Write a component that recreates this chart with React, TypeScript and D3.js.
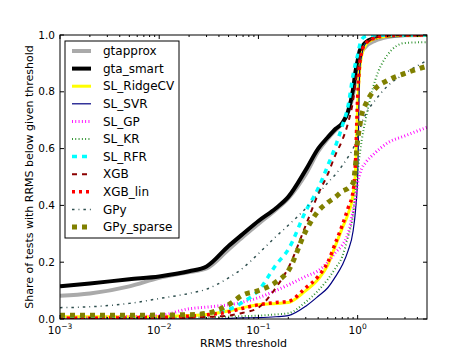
import React from 'react';
import * as d3 from 'd3';

const thresholds = [0.001, 0.002, 0.005, 0.01, 0.02, 0.03, 0.05, 0.07, 0.1, 0.15, 0.2, 0.3, 0.4, 0.5, 0.6, 0.7, 0.8, 0.9, 0.95, 1.0, 1.05, 1.1, 1.2, 1.5, 2, 3, 5];

const gtapprox = [0.082, 0.09, 0.115, 0.145, 0.165, 0.178, 0.245, 0.29, 0.335, 0.385, 0.425, 0.51, 0.59, 0.635, 0.665, 0.69, 0.73, 0.79, 0.84, 0.88, 0.92, 0.94, 0.958, 0.98, 0.993, 0.999, 1.0];
const gtaSmart = [0.115, 0.125, 0.14, 0.15, 0.168, 0.185, 0.257, 0.3, 0.345, 0.39, 0.43, 0.525, 0.6, 0.64, 0.67, 0.69, 0.73, 0.81, 0.87, 0.91, 0.945, 0.958, 0.974, 0.99, 0.998, 1.0, 1.0];
const slRidgeCV = [0.008, 0.008, 0.008, 0.009, 0.012, 0.016, 0.028, 0.04, 0.05, 0.055, 0.058, 0.1, 0.14, 0.19, 0.26, 0.32, 0.37, 0.44, 0.52, 0.75, 0.88, 0.93, 0.965, 0.988, 0.996, 1.0, 1.0];
const slSVR = [0, 0, 0, 0, 0, 0, 0.002, 0.004, 0.005, 0.008, 0.012, 0.045, 0.08, 0.11, 0.15, 0.19, 0.24, 0.31, 0.38, 0.5, 0.88, 0.93, 0.97, 0.99, 0.998, 1.0, 1.0];
const slGP = [0.005, 0.005, 0.008, 0.012, 0.036, 0.042, 0.05, 0.06, 0.075, 0.1, 0.12, 0.15, 0.17, 0.2, 0.235, 0.26, 0.3, 0.38, 0.42, 0.48, 0.51, 0.53, 0.55, 0.585, 0.62, 0.645, 0.675];
const slKR = [0.002, 0.002, 0.003, 0.004, 0.005, 0.006, 0.008, 0.01, 0.012, 0.016, 0.02, 0.06, 0.1, 0.14, 0.18, 0.22, 0.29, 0.37, 0.45, 0.52, 0.58, 0.63, 0.7, 0.84, 0.93, 0.972, 0.975];
const slRFR = [0.002, 0.002, 0.003, 0.004, 0.01, 0.02, 0.033, 0.06, 0.1, 0.19, 0.245, 0.38, 0.46, 0.54, 0.61, 0.68, 0.75, 0.86, 0.9, 0.93, 0.965, 0.985, 0.995, 1.0, 1.0, 1.0, 1.0];
const xgb = [0, 0, 0, 0.002, 0.004, 0.007, 0.012, 0.022, 0.04, 0.11, 0.18, 0.33, 0.44, 0.51, 0.58, 0.63, 0.69, 0.77, 0.83, 0.88, 0.92, 0.945, 0.965, 0.99, 0.997, 1.0, 1.0];
const xgbLin = [0.003, 0.003, 0.004, 0.005, 0.01, 0.015, 0.025, 0.038, 0.05, 0.058, 0.062, 0.11, 0.15, 0.2, 0.27, 0.33, 0.39, 0.45, 0.55, 0.78, 0.9, 0.94, 0.97, 0.99, 0.998, 1.0, 1.0];
const gpy = [0.04, 0.043, 0.055, 0.072, 0.09, 0.105, 0.145, 0.18, 0.23, 0.29, 0.33, 0.39, 0.44, 0.48, 0.51, 0.54, 0.57, 0.6, 0.62, 0.64, 0.665, 0.69, 0.72, 0.77, 0.82, 0.865, 0.91];
const gpySparse = [0.013, 0.013, 0.013, 0.014, 0.015, 0.02, 0.05, 0.085, 0.1, 0.13, 0.17, 0.31, 0.38, 0.41, 0.43, 0.45, 0.46, 0.48, 0.54, 0.63, 0.68, 0.72, 0.755, 0.81, 0.84, 0.865, 0.89];

const seriesNames = ['gtapprox', 'gta_smart', 'SL_RidgeCV', 'SL_SVR', 'SL_GP', 'SL_KR', 'SL_RFR', 'XGB', 'XGB_lin', 'GPy', 'GPy_sparse'];
const seriesValues = [gtapprox, gtaSmart, slRidgeCV, slSVR, slGP, slKR, slRFR, xgb, xgbLin, gpy, gpySparse];

const yTicks = [0, 0.2, 0.4, 0.6, 0.8, 1.0];
const xMajorExps = [-3, -2, -1, 0];

const styles = [
  { color: '#aaaaaa', width: 4, dash: '' },
  { color: '#000000', width: 4, dash: '' },
  { color: '#ffff00', width: 3, dash: '' },
  { color: '#000080', width: 1.2, dash: '' },
  { color: '#ff00ff', width: 3, dash: '0.9,2.4' },
  { color: '#228b22', width: 2, dash: '0.9,2.4' },
  { color: '#00ffff', width: 3.5, dash: '5,5' },
  { color: '#8b0000', width: 2, dash: '5,5' },
  { color: '#ff0000', width: 3.5, dash: '3,4' },
  { color: '#2f4f4f', width: 1.5, dash: '2.5,4,0.9,4' },
  { color: '#808000', width: 5, dash: '5,5' },
];

const L = 60, R = 427, T = 35, B = 319;

export default function App() {
  const x = d3.scaleLog().domain([1e-3, 5]).range([L, R]);
  const y = d3.scaleLinear().domain([0, 1]).range([B, T]);
  const line = d3
    .line<number>()
    .x((_, i) => x(thresholds[i]))
    .y((d) => y(d))
    .curve(d3.curveMonotoneX);

  const minorTicks: number[] = [];
  for (let e = -3; e <= 0; e++) {
    for (let m = 2; m <= 9; m++) {
      const v = m * Math.pow(10, e);
      if (v < 5) minorTicks.push(v);
    }
  }

  const font = 'DejaVu Sans, sans-serif';
  const legX = 65, legY = 41, legW = 114, legH = 197;
  const rowH = 17.6;

  return (
    <svg width={474} height={355} style={{ position: 'absolute', left: 0, top: 0, background: '#fff' }} fontFamily={font}>
      <rect x={0} y={0} width={474} height={355} fill="#fff" />
      <defs>
        <clipPath id="plotclip">
          <rect x={L} y={T} width={R - L} height={B - T} />
        </clipPath>
      </defs>
      <g clipPath="url(#plotclip)">
        {seriesValues.map((vals, i) => (
          <path
            key={seriesNames[i]}
            d={line(vals) || ''}
            fill="none"
            stroke={styles[i].color}
            strokeWidth={styles[i].width}
            strokeDasharray={styles[i].dash || undefined}
            strokeLinejoin="round"
          />
        ))}
      </g>
      {/* frame */}
      <rect x={L} y={T} width={R - L} height={B - T} fill="none" stroke="#000" strokeWidth={1} />
      {/* y ticks */}
      {yTicks.map((t) => (
        <g key={'y' + t}>
          <line x1={L} x2={L + 4} y1={y(t)} y2={y(t)} stroke="#000" />
          <line x1={R} x2={R - 4} y1={y(t)} y2={y(t)} stroke="#000" />
          <text x={L - 5} y={y(t)} dy="0.35em" textAnchor="end" fontSize={10.5}>
            {t.toFixed(1)}
          </text>
        </g>
      ))}
      {/* x major ticks */}
      {xMajorExps.map((e) => {
        const px = x(Math.pow(10, e));
        return (
          <g key={'x' + e}>
            <line x1={px} x2={px} y1={B} y2={B - 4} stroke="#000" />
            <line x1={px} x2={px} y1={T} y2={T + 4} stroke="#000" />
            <text x={px} y={334} textAnchor="middle" fontSize={10.5}>
              10
              <tspan fontSize={7.5} dy={-5}>
                {e < 0 ? '\u2212' + Math.abs(e) : String(e)}
              </tspan>
            </text>
          </g>
        );
      })}
      {minorTicks.map((v) => {
        const px = x(v);
        return (
          <g key={'m' + v}>
            <line x1={px} x2={px} y1={B} y2={B - 2} stroke="#000" />
            <line x1={px} x2={px} y1={T} y2={T + 2} stroke="#000" />
          </g>
        );
      })}
      <text x={(L + R) / 2} y={347} textAnchor="middle" fontSize={11}>
        RRMS threshold
      </text>
      <text transform={`translate(33,${(T + B) / 2}) rotate(-90)`} textAnchor="middle" fontSize={11}>
        Share of tests with RRMS below given threshold
      </text>
      {/* legend */}
      <rect x={legX} y={legY} width={legW} height={legH} fill="#fff" stroke="#000" strokeWidth={1} />
      {seriesNames.map((name, i) => {
        const cy = legY + 10 + i * rowH;
        return (
          <g key={'leg' + name}>
            <line
              x1={72}
              x2={91}
              y1={cy}
              y2={cy}
              stroke={styles[i].color}
              strokeWidth={styles[i].width}
              strokeDasharray={styles[i].dash || undefined}
            />
            <text x={103} y={cy} dy="0.35em" fontSize={12}>
              {name}
            </text>
          </g>
        );
      })}
    </svg>
  );
}
